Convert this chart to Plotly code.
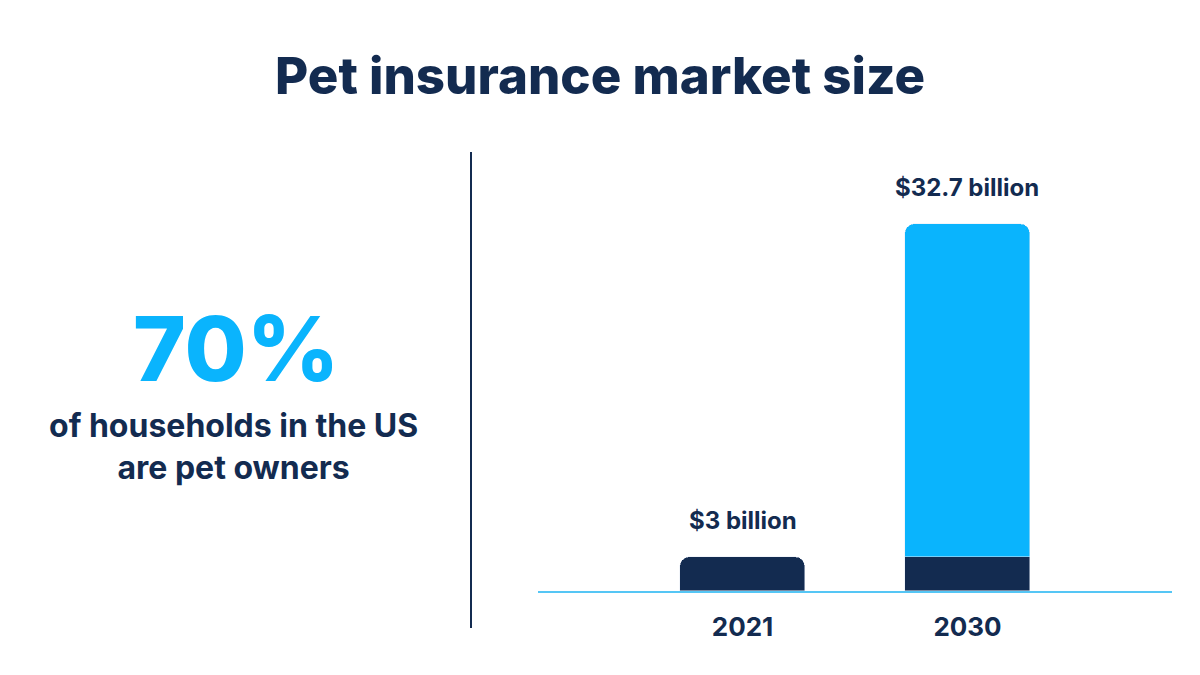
import plotly.graph_objects as go

# Data
years = ["2021", "2030"]
market_size = [3.0, 32.7]          # $ billion
base_value = 3.0                   # 2021 level, drawn navy in both bars
labels = ["$3 billion", "$32.7 billion"]
stat_value = "70%"
stat_text = ["of households in the US", "are pet owners"]

NAVY = "#132b50"
CYAN = "#0ab4fd"
LINE = "#55c6f5"
FONT = "Inter"

xpos = list(range(len(years)))
growth = [max(v - base_value, 0) for v in market_size]

fig = go.Figure()
fig.add_trace(go.Bar(x=xpos, y=[base_value] * len(years), marker_color=NAVY,
                     width=0.556, hoverinfo="skip"))
fig.add_trace(go.Bar(x=xpos[1:], y=growth[1:], marker_color=CYAN,
                     width=0.556, hoverinfo="skip"))

for x, v, lab in zip(xpos, market_size, labels):
    fig.add_annotation(x=x, y=v, text=lab, showarrow=False,
                       yanchor="bottom", yshift=20,
                       font=dict(family=FONT, size=24, color=NAVY, weight=700))

# Title
fig.add_annotation(xref="paper", yref="paper", x=(600 - 538) / 634,
                   y=(591 - 75) / 449, text="Pet insurance market size",
                   showarrow=False, xanchor="center", yanchor="middle",
                   font=dict(family=FONT, size=51, color=NAVY, weight=800))

# Left panel stat
fig.add_annotation(xref="paper", yref="paper", x=(236 - 538) / 634,
                   y=(591 - 348) / 449, text=stat_value,
                   showarrow=False, xanchor="center", yanchor="middle",
                   font=dict(family=FONT, size=90, color=CYAN, weight=800))
fig.add_annotation(xref="paper", yref="paper", x=(233 - 538) / 634,
                   y=(591 - 446) / 449,
                   text="<br>".join(stat_text),
                   showarrow=False, xanchor="center", yanchor="middle",
                   align="center",
                   font=dict(family=FONT, size=32, color=NAVY, weight=700))

# Divider line
fig.add_shape(type="line", xref="paper", yref="paper",
              x0=(471 - 538) / 634, x1=(471 - 538) / 634,
              y0=(591 - 628) / 449, y1=(591 - 152) / 449,
              line=dict(color=NAVY, width=2))

fig.update_layout(
    width=1200, height=675,
    margin=dict(l=538, r=28, t=142, b=84),
    paper_bgcolor="white", plot_bgcolor="white",
    barmode="stack", barcornerradius=10, bargap=0,
    showlegend=False,
    xaxis=dict(range=[-0.909, 1.909], tickvals=xpos, ticktext=years,
               showgrid=False, zeroline=False, showline=True,
               linecolor=LINE, linewidth=1.5, ticks="",
               tickfont=dict(family=FONT, size=26, color=NAVY, weight="bold"),
               ticklabelstandoff=12, fixedrange=True),
    yaxis=dict(range=[0, 40], visible=False, fixedrange=True),
)

fig.write_html("out.html")
